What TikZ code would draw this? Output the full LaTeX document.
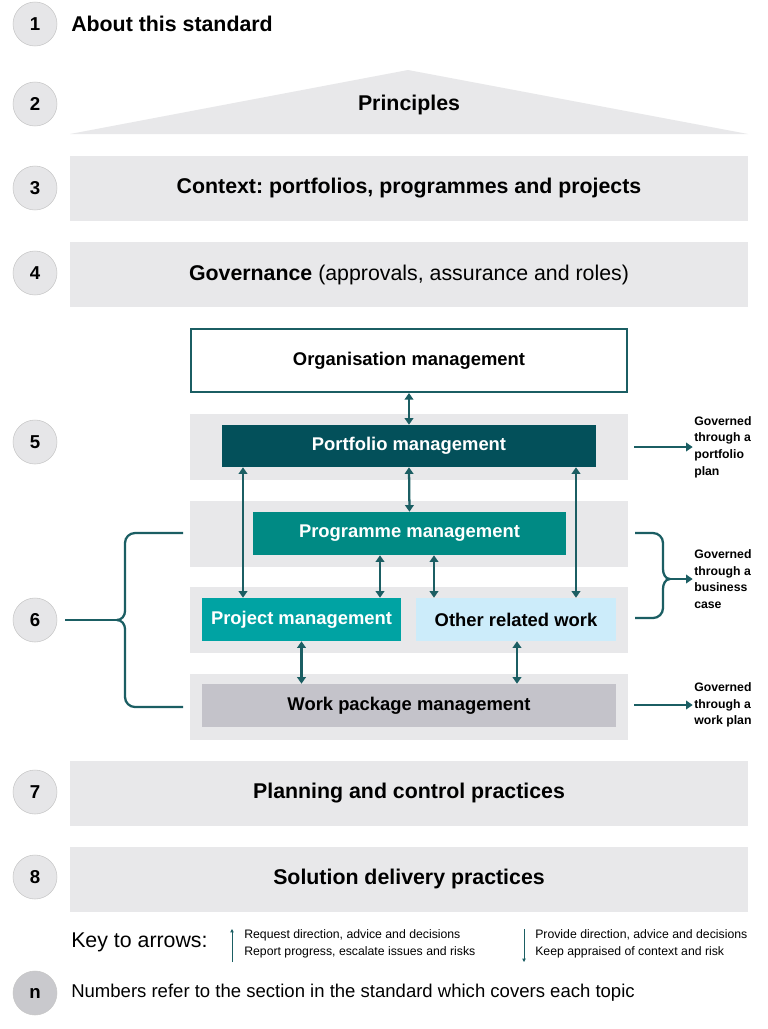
\documentclass[tikz,border=0pt]{standalone}
\usepackage{fontspec}
\setmainfont{Liberation Sans}
\frenchspacing
\usetikzlibrary{arrows.meta,calc}
\definecolor{band}{HTML}{E8E8EA}
\definecolor{circfill}{HTML}{E6E6E8}
\definecolor{circn}{HTML}{C9C9CD}
\definecolor{tealdark}{HTML}{1B5E63}
\definecolor{portf}{HTML}{03505A}
\definecolor{progf}{HTML}{008A84}
\definecolor{projf}{HTML}{00A3A3}
\definecolor{othf}{HTML}{CCECFA}
\definecolor{wpf}{HTML}{C4C3CA}
\begin{document}
\begin{tikzpicture}[x=0.75pt,y=-0.75pt,
  num/.style={circle,fill=circfill,draw=black!22,line width=0.4pt,minimum size=33pt,inner sep=0pt,font=\fontsize{14}{16}\selectfont\bfseries},
  titletext/.style={font=\fontsize{16}{19}\selectfont\bfseries,inner sep=0pt},
  bigbox/.style={fill=band,minimum width=508.5pt,minimum height=48.75pt,inner sep=0pt,font=\fontsize{16}{19}\selectfont\bfseries},
  bandbox/.style={fill=band,minimum width=328.5pt,minimum height=49.5pt,inner sep=0pt},
  mgmt/.style={minimum height=32.25pt,inner sep=0pt,font=\fontsize{13.8}{16}\selectfont\bfseries},
  govtext/.style={anchor=west,align=left,inner sep=0pt,font=\fontsize{9.2}{12.5}\selectfont\bfseries},
  dbl/.style={tealdark,line width=1.7pt,{Triangle[length=5pt,width=6.5pt]}-{Triangle[length=5pt,width=6.5pt]}},
  onearrow/.style={tealdark,line width=1.7pt,-{Triangle[length=5pt,width=6.5pt]}},
  bracel/.style={tealdark,line width=1.7pt},
  keyarrow/.style={tealdark,line width=0.6pt,-{Triangle[length=2.5pt,width=2.5pt]}},
  keytext/.style={anchor=west,align=left,inner sep=0pt,font=\fontsize{9.2}{12.75}\selectfont}
]
\useasboundingbox (0,0) rectangle (768,1029);
\fill[white] (0,0) rectangle (768,1029);

% numbered circles
\node[num] (c1) at (35,24) {1};
\node[num] (c2) at (35,104) {2};
\node[num] (c3) at (35,188) {3};
\node[num] (c4) at (35,273) {4};
\node[num] (c5) at (35,442) {5};
\node[num] (c6) at (35,620) {6};
\node[num] (c7) at (35,792) {7};
\node[num] (c8) at (35,877) {8};
\node[num,fill=circn] (cn) at (35,993) {n};

% 1
\node[titletext,anchor=west] (t1) at (71,24) {About this standard};
% 2
\fill[band] (70,134) -- (408,70) -- (748,134) -- cycle;
\node[titletext] (t2) at (409,105) {Principles};
% 3, 4
\node[bigbox] (b3) at (409,188) {Context: portfolios, programmes and projects};
\node[bigbox] (b4) at (409,274.5) {Governance\fontseries{m}\selectfont{} (approvals, assurance and roles)};

% organisation
\node[mgmt,fill=white,draw=tealdark,line width=1.5pt,minimum width=327pt,minimum height=47.25pt] (org) at (409,360.5) {Organisation management};

% bands
\node[bandbox] (b5) at (409,447) {};
\node[bandbox] (bprog) at (409,533.5) {};
\node[bandbox] (bproj) at (409,620) {};
\node[bandbox] (bwp) at (409,706.5) {};

% management boxes
\node[mgmt,fill=portf,text=white,minimum width=280.5pt,minimum height=31.5pt] (port) at (409,446) {Portfolio management};
\node[mgmt,fill=progf,text=white,minimum width=234.75pt] (prog) at (409.5,533.5) {Programme management};
\node[mgmt,fill=projf,text=white,minimum width=149.25pt] (pj) at (301.5,619.5) {Project management};
\node[mgmt,fill=othf,text=black,minimum width=150pt] (oth) at (516,619.5) {Other related work};
\node[mgmt,fill=wpf,text=black,minimum width=310.5pt] (wp) at (409,705.5) {Work package management};

% x positions of vertical arrows
\coordinate (xL) at (243,0);
\coordinate (xR) at (576,0);
\coordinate (xA) at (380,0);
\coordinate (xB) at (434,0);
\coordinate (xC) at (517,0);

\draw[dbl] (org.south) -- (port.north);
\draw[dbl] (port.south) -- (prog.north);
\draw[dbl] (port.south -| xL) -- (pj.north -| xL);
\draw[dbl] (port.south -| xR) -- (oth.north -| xR);
\draw[dbl] (prog.south -| xA) -- (pj.north -| xA);
\draw[dbl] (prog.south -| xB) -- (oth.north -| xB);
\draw[dbl] (pj.south) -- (wp.north -| pj.south);
\draw[dbl] (oth.south -| xC) -- (wp.north -| xC);

% governed labels
\node[govtext] (g1) at (694,447) {Governed\\through a\\portfolio\\plan};
\node[govtext] (g2) at (694,579) {Governed\\through a\\business\\case};
\node[govtext] (g3) at (694,705) {Governed\\through a\\work plan};

\draw[onearrow] ([xshift=4.5pt]b5.east) -- ([xshift=-1pt]g1.west);
\draw[onearrow] ([xshift=4.5pt]bwp.east |- g3.west) -- ([xshift=-1pt]g3.west);

% right brace
\coordinate (rtop) at (635,533);
\coordinate (rbot) at (635,618);
\coordinate (rtip) at (670,579);
\draw[bracel] (rtop) -- (653,533) to[out=0,in=90] (663,543) -- (663,569) to[out=-90,in=180] (rtip);
\draw[bracel] (rbot) -- (653,618) to[out=0,in=-90] (663,608) -- (663,589) to[out=90,in=180] (rtip);
\draw[onearrow] (rtip) -- ([xshift=-1pt]g2.west);

% left brace
\coordinate (ltop) at (183,533);
\coordinate (lbot) at (183,707);
\coordinate (ltip) at (117,620);
\draw[bracel] (ltop) -- (135,533) to[out=180,in=90] (125,543) -- (125,611) to[out=-90,in=0] (ltip);
\draw[bracel] (lbot) -- (135,707) to[out=180,in=-90] (125,697) -- (125,629) to[out=90,in=0] (ltip);
\draw[bracel] ([xshift=6pt]c6.east) -- (ltip);

% 7, 8
\node[bigbox] (b7) at (409,793) {Planning and control practices};
\node[bigbox] (b8) at (409,879) {Solution delivery practices};

% key
\node[anchor=west,inner sep=0pt,font=\fontsize{16}{19}\selectfont] (keyt) at (71,942) {Key to arrows:};
\coordinate (ku1) at (232,962);
\coordinate (ku2) at (232,929);
\draw[keyarrow] (ku1) -- (ku2);
\node[keytext] (k1) at (244,943.5) {Request direction, advice and decisions\\Report progress, escalate issues and risks};
\coordinate (kd1) at (524,929);
\coordinate (kd2) at (524,962);
\draw[keyarrow] (kd1) -- (kd2);
\node[keytext] (k2) at (535,943.5) {Provide direction, advice and decisions\\Keep appraised of context and risk};

\node[anchor=west,inner sep=0pt,font=\fontsize{13.9}{16}\selectfont] (foot) at (71,993) {Numbers refer to the section in the standard which covers each topic};
\end{tikzpicture}
\end{document}
